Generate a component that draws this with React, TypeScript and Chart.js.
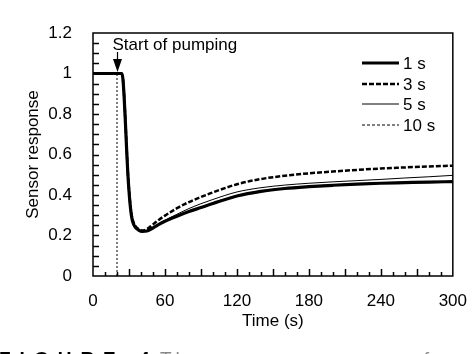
import React, { useEffect, useRef } from "react";
import { Chart, registerables } from "chart.js";

Chart.register(...registerables);

const FONT = "'Liberation Sans', Arial, sans-serif";

// time axis (s)
const TIME = [0, 10, 20, 24, 25, 26, 27, 28, 29, 30, 31, 32, 33, 35, 38, 41, 45, 50, 55, 60, 70, 80, 90, 100, 120, 140, 160, 180, 200, 220, 240, 260, 280, 300];

const S1 = [1, 1, 1, 1, 0.97, 0.88, 0.76, 0.63, 0.51, 0.42, 0.35, 0.3, 0.27, 0.243, 0.227, 0.22, 0.222, 0.237, 0.255, 0.27, 0.295, 0.318, 0.338, 0.358, 0.395, 0.418, 0.432, 0.441, 0.448, 0.454, 0.458, 0.461, 0.464, 0.466];
const S3 = [1, 1, 1, 1, 0.97, 0.89, 0.77, 0.64, 0.52, 0.43, 0.36, 0.31, 0.28, 0.25, 0.232, 0.225, 0.232, 0.255, 0.278, 0.298, 0.335, 0.365, 0.39, 0.413, 0.453, 0.479, 0.495, 0.507, 0.516, 0.524, 0.531, 0.536, 0.541, 0.545];
const S5 = [1, 1, 1, 1, 0.97, 0.88, 0.76, 0.63, 0.51, 0.42, 0.35, 0.3, 0.27, 0.243, 0.227, 0.22, 0.225, 0.24, 0.258, 0.275, 0.305, 0.333, 0.357, 0.378, 0.415, 0.436, 0.449, 0.458, 0.465, 0.471, 0.477, 0.484, 0.49, 0.497];
const S10 = [1, 1, 1, 1, 0.97, 0.88, 0.76, 0.63, 0.51, 0.42, 0.35, 0.3, 0.27, 0.243, 0.227, 0.22, 0.223, 0.238, 0.257, 0.272, 0.298, 0.321, 0.341, 0.361, 0.398, 0.421, 0.435, 0.444, 0.451, 0.456, 0.46, 0.463, 0.465, 0.467];

const SERIES_LABELS = ["1 s", "3 s", "5 s", "10 s"];

const X_TICKS = [0, 60, 120, 180, 240, 300];
const Y_TICKS = [0, 0.2, 0.4, 0.6, 0.8, 1, 1.2];

const PUMP_START = 20;
const PUMP_LINE = [0, 1];
const ANNOTATION = "Start of pumping";
const X_TITLE = "Time (s)";
const Y_TITLE = "Sensor response";
const CAPTION_BOLD = "FIGURE 4";
const CAPTION_TEXT = "The sensor response for different";

const toPts = (ys: number[]) => ys.map((y, i) => ({ x: TIME[i], y }));

const STYLES = [
  { borderWidth: 3.2, borderDash: [] as number[] },
  { borderWidth: 2.5, borderDash: [5, 2] },
  { borderWidth: 1, borderDash: [] as number[] },
  { borderWidth: 1, borderDash: [3, 2] },
];

const decorPlugin = {
  id: "decor",
  afterDraw(chart: any) {
    const { ctx, chartArea: a, scales } = chart;
    const xs = scales.x;
    const ys = scales.y;
    ctx.save();
    ctx.strokeStyle = "#000";
    ctx.fillStyle = "#000";
    // frame
    ctx.lineWidth = 1.5;
    ctx.setLineDash([]);
    ctx.strokeRect(a.left, a.top, a.right - a.left, a.bottom - a.top);
    // y inward ticks every 0.05
    for (let v = 0.05; v < 1.2; v += 0.05) {
      const y = Math.round(ys.getPixelForValue(v)) + 0.5;
      ctx.beginPath();
      ctx.moveTo(a.left, y);
      ctx.lineTo(a.left + 6, y);
      ctx.stroke();
    }
    // x inward ticks every 10 s, longer every 30 s
    for (let v = 10; v < 300; v += 10) {
      const x = Math.round(xs.getPixelForValue(v)) + 0.5;
      const len = v % 30 === 0 ? 7 : 4;
      ctx.beginPath();
      ctx.moveTo(x, a.bottom);
      ctx.lineTo(x, a.bottom - len);
      ctx.stroke();
    }
    // annotation
    const px = Math.round(xs.getPixelForValue(PUMP_START)) + 0.5;
    ctx.font = `17px ${FONT}`;
    ctx.textBaseline = "alphabetic";
    ctx.textAlign = "left";
    ctx.fillText(ANNOTATION, px - 5, 50);
    ctx.lineWidth = 1.2;
    ctx.beginPath();
    ctx.moveTo(px, 52);
    ctx.lineTo(px, 60);
    ctx.stroke();
    ctx.beginPath();
    ctx.moveTo(px - 4.5, 59);
    ctx.lineTo(px + 4.5, 59);
    ctx.lineTo(px, 72);
    ctx.closePath();
    ctx.fill();
    // legend
    const datasets = chart.data.datasets;
    const rows = [63, 84, 104, 125];
    for (let i = 0; i < 4; i++) {
      const ds = datasets[i];
      ctx.lineWidth = ds.borderWidth;
      ctx.setLineDash(ds.borderDash || []);
      ctx.beginPath();
      ctx.moveTo(362, rows[i]);
      ctx.lineTo(399, rows[i]);
      ctx.stroke();
      ctx.setLineDash([]);
      ctx.textBaseline = "middle";
      ctx.fillText(ds.label, 403, rows[i] + 1);
    }
    // axis titles
    ctx.font = `17px ${FONT}`;
    ctx.textAlign = "center";
    ctx.textBaseline = "middle";
    ctx.fillText(X_TITLE, (a.left + a.right) / 2, 321);
    ctx.save();
    ctx.translate(33, (a.top + a.bottom) / 2);
    ctx.rotate(-Math.PI / 2);
    ctx.fillText(Y_TITLE, 0, 0);
    ctx.restore();
    // caption (cut off by page)
    ctx.textAlign = "left";
    ctx.textBaseline = "alphabetic";
    ctx.font = `bold 19px ${FONT}`;
    (ctx as any).letterSpacing = "9px";
    ctx.fillText(CAPTION_BOLD, -1, 365);
    ctx.font = `19px ${FONT}`;
    (ctx as any).letterSpacing = "4px";
    ctx.fillStyle = "#888";
    ctx.fillText(CAPTION_TEXT, 160, 365);
    ctx.restore();
  },
};

export default function App() {
  const ref = useRef<HTMLCanvasElement>(null);
  useEffect(() => {
    if (!ref.current) return;
    const seriesData = [S1, S3, S5, S10];
    const datasets: any[] = seriesData.map((s, i) => ({
      label: SERIES_LABELS[i],
      data: toPts(s),
      borderColor: "#000",
      backgroundColor: "#000",
      borderWidth: STYLES[i].borderWidth,
      borderDash: STYLES[i].borderDash,
      pointRadius: 0,
      cubicInterpolationMode: "monotone",
      fill: false,
      order: 4 - i,
    }));
    datasets.push({
      label: "pump",
      data: PUMP_LINE.map((y) => ({ x: PUMP_START, y })),
      borderColor: "#000",
      borderWidth: 1,
      borderDash: [2, 2],
      pointRadius: 0,
      fill: false,
    });
    const chart = new Chart(ref.current, {
      type: "line",
      data: { datasets },
      options: {
        responsive: false,
        animation: false,
        layout: { padding: { left: 0, right: 15, top: 33, bottom: 0 } },
        plugins: { legend: { display: false }, tooltip: { enabled: false } },
        scales: {
          x: {
            type: "linear",
            min: 0,
            max: 300,
            grid: { display: false },
            border: { display: false },
            afterBuildTicks: (s: any) => {
              s.ticks = X_TICKS.map((v) => ({ value: v }));
            },
            afterFit: (s: any) => {
              s.height = 78;
            },
            ticks: {
              color: "#000",
              font: { family: FONT, size: 17 },
              padding: 7,
              maxRotation: 0,
              callback: (v: any) => String(v),
            },
          },
          y: {
            type: "linear",
            min: 0,
            max: 1.2,
            grid: { display: false },
            border: { display: false },
            afterBuildTicks: (s: any) => {
              s.ticks = Y_TICKS.map((v) => ({ value: v }));
            },
            afterFit: (s: any) => {
              s.width = 93;
            },
            ticks: {
              color: "#000",
              font: { family: FONT, size: 17 },
              padding: 13,
              callback: (v: any) => String(Math.round(v * 10) / 10),
            },
          },
        },
      },
      plugins: [decorPlugin],
    });
    return () => chart.destroy();
  }, []);
  return (
    <div style={{ position: "fixed", left: 0, top: 0, width: 474, height: 354, background: "#fff" }}>
      <canvas ref={ref} width={474} height={354} />
    </div>
  );
}
